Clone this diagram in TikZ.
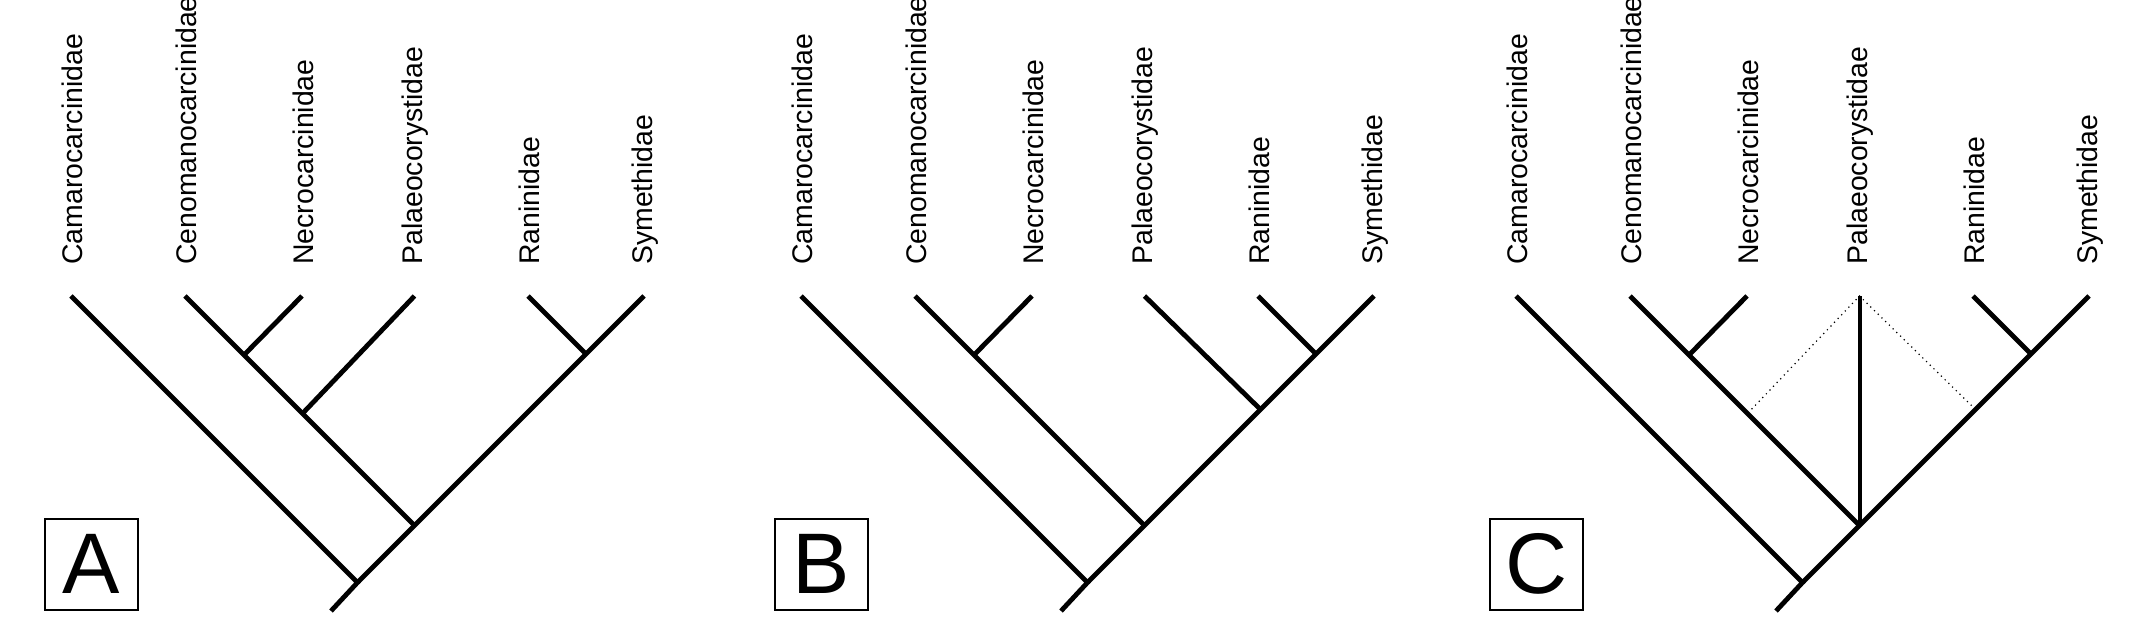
\documentclass[tikz,border=0pt]{standalone}
\usepackage{fontspec}
\setmainfont{Liberation Sans}
\begin{document}
\begin{tikzpicture}[x=0.5pt,y=-0.5pt,
  br/.style={line width=2.4pt},
  taxon/.style={rotate=90,anchor=west,font=\fontsize{14.2}{17}\selectfont,inner sep=0pt,yshift=-0.5pt},
  panel/.style={draw,line width=0.8pt,minimum width=46.5pt,minimum height=45.5pt,anchor=north west,inner sep=0pt,font=\fontsize{43}{46}\selectfont}]
\useasboundingbox (0,0) rectangle (2130,619);
\foreach \o/\L in {0/A,730/B,1445/C}{
  \begin{scope}[xshift=\o*0.5pt]
  \coordinate (t1\L) at (71,296);
  \coordinate (t2\L) at (185,296);
  \coordinate (t3\L) at (302,296);
  \coordinate (t4\L) at (414.5,296);
  \coordinate (t5\L) at (528,296);
  \coordinate (t6\L) at (644,296);
  \node[taxon] (l1\L) at (71,265) {Camarocarcinidae};
  \node[taxon] (l2\L) at (185,265) {Cenomanocarcinidae};
  \node[taxon] (l3\L) at (302,265) {Necrocarcinidae};
  \node[taxon] (l4\L) at (414.5,265) {Palaeocorystidae};
  \node[taxon] (l5\L) at (528,265) {Raninidae};
  \node[taxon] (l6\L) at (644,265) {Symethidae};
  \node[panel] (lab\L) at (44,518) {\L};
  \coordinate (root\L) at (357.5,582.5);
  \coordinate (base\L) at (331,611);
  \coordinate (jN\L) at (244,355);
  \coordinate (jR\L) at (586,354);
  \coordinate (J\L) at (414.5,525.5);
  \coordinate (P\L) at (303,413);
  \coordinate (Q\L) at (530.5,409.5);
  \draw[br] (t1\L) -- (root\L) -- (base\L);
  \draw[br] (root\L) -- (t6\L);
  \draw[br] (jN\L) -- (t3\L);
  \draw[br] (jR\L) -- (t5\L);
  \draw[br] (t2\L) -- (J\L);
  \end{scope}
}
% panel A
\draw[br] (PA) -- (t4A);
% panel B
\draw[br] (t4B) -- (QB);
% panel C
\draw[line width=2pt] (JC) -- (t4C);
\draw[dotted,line width=0.6pt] (PC) -- (t4C) -- (QC);
\end{tikzpicture}
\end{document}
